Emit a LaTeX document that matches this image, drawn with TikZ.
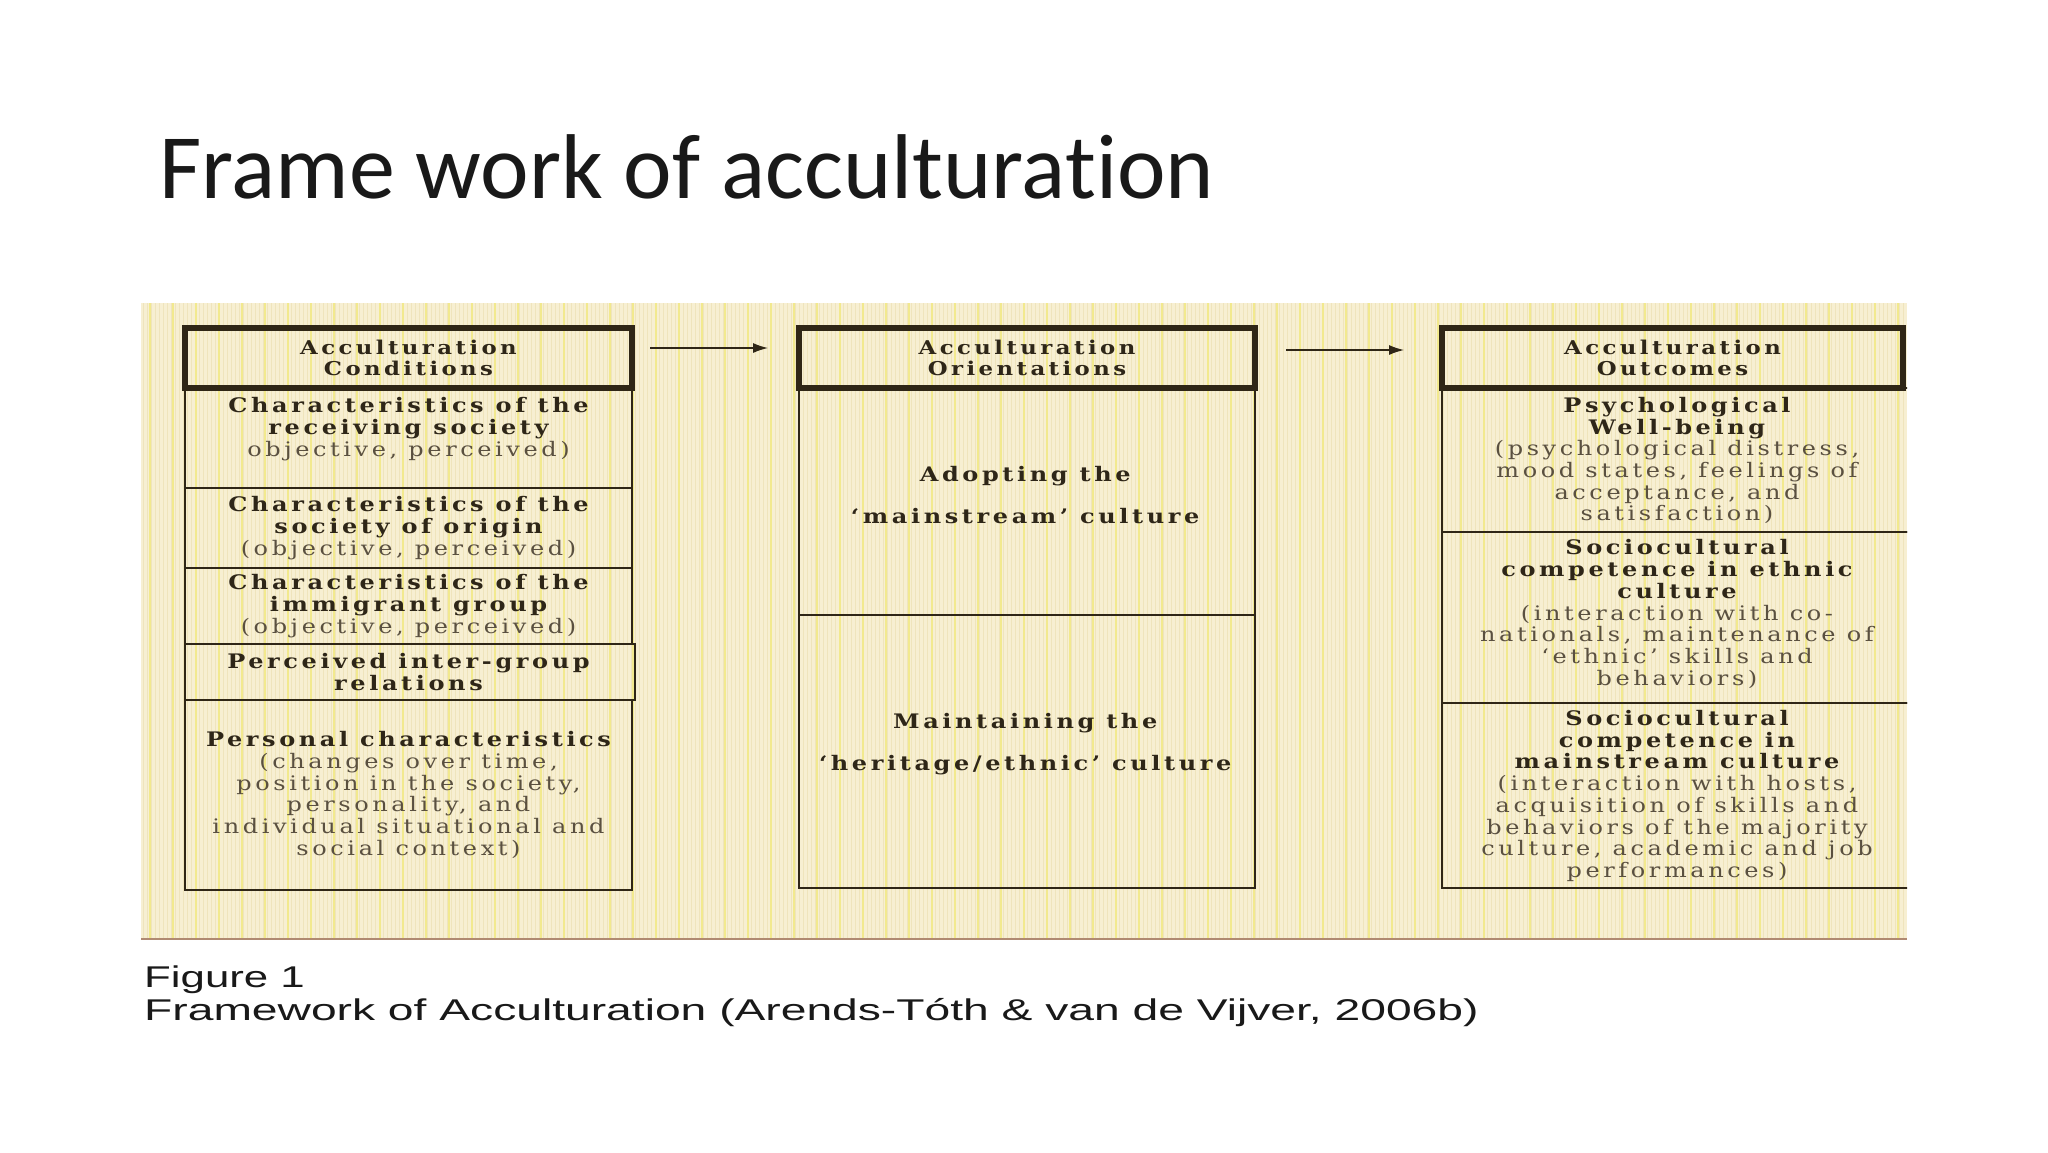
\documentclass[tikz,border=0pt]{standalone}
\usepackage{fontspec}
\usepackage{tikz}
\usetikzlibrary{positioning,calc,arrows.meta}

\newfontfamily\figfont[LetterSpace=18,FakeStretch=1.2]{DejaVu Serif}
\newfontfamily\slidefont[Ligatures=NoCommon]{Carlito}
\newfontfamily\capfont{Liberation Sans}

\definecolor{framecol}{HTML}{2F2616}
\definecolor{inkcol}{HTML}{2E2618}
\definecolor{softink}{HTML}{5A5040}
\definecolor{papercol}{HTML}{F7EFD2}
\definecolor{stripecol}{HTML}{EFE4BC}
\definecolor{yelstripe}{HTML}{F2E98E}
\definecolor{rulecol}{HTML}{B08A72}

\tikzset{
  headbox/.style={draw=framecol, line width=6pt, inner sep=0pt, outer sep=0pt,
    minimum height=60pt, align=center, text=inkcol,
    font=\figfont\bfseries\fontsize{19}{21}\selectfont},
  cellbox/.style={draw=framecol, line width=1.8pt, inner sep=0pt, outer sep=0pt},
  celltext/.style={inner sep=0pt, align=center, text=softink,
    font=\figfont\fontsize{20}{21.7}\selectfont},
  flowarrow/.style={-{Latex[length=15pt,width=10pt]}, line width=1.3pt, draw=framecol},
}

\begin{document}
\begin{tikzpicture}[x=1pt, y=-1pt]
    \useasboundingbox[fill=white] (0,0) rectangle (2048,1152);

    % title of the slide
    \node[anchor=base west, inner sep=0pt, text=black!90, font=\slidefont\fontsize{92}{100}\selectfont] (title) at (159,198) {Frame work of acculturation};

    % scanned paper
    \fill[papercol] (141,303) rectangle (1907,938);
    \foreach \x in {143,147,...,1905}
        \draw[stripecol, line width=1pt] (\x,303) -- (\x,938);
    \foreach \x in {150,173,...,1905}
        \draw[yelstripe, line width=1.2pt] (\x,303) -- (\x,938);
    \draw[rulecol, line width=2.5pt] (141,939) -- (1907,939);

    % conditions
    \node[headbox, minimum width=447pt] (condhead) at (408.5,358) {Acculturation\\Conditions};
    \node[cellbox, minimum width=447pt, minimum height=100pt] (recv) at (408.5,438) {};
    \node[cellbox, minimum width=447pt, minimum height=80pt] (origin) at (408.5,528) {};
    \node[cellbox, minimum width=447pt, minimum height=76pt] (group) at (408.5,606) {};
    \node[cellbox, minimum width=450pt, minimum height=56pt] (intergroup) at (410,672) {};
    \node[cellbox, minimum width=447pt, minimum height=190pt] (personal) at (408.5,795) {};
    \node[celltext] (recvtext) at (408.5,429) {\textbf{\color{inkcol}Characteristics of the}\\\textbf{\color{inkcol}receiving society}\\objective, perceived)};
    \node[celltext] (origintext) at (origin) {\textbf{\color{inkcol}Characteristics of the}\\\textbf{\color{inkcol}society of origin}\\(objective, perceived)};
    \node[celltext] (grouptext) at (group) {\textbf{\color{inkcol}Characteristics of the}\\\textbf{\color{inkcol}immigrant group}\\(objective, perceived)};
    \node[celltext] (intergrouptext) at (408.5,672) {\textbf{\color{inkcol}Perceived inter-group}\\\textbf{\color{inkcol}relations}};
    \node[celltext] (personaltext) at (personal) {\textbf{\color{inkcol}Personal characteristics}\\(changes over time,\\position in the society,\\personality, and\\individual situational and\\social context)};

    % orientations
    \node[headbox, minimum width=456pt] (orienthead) at (1027,358) {Acculturation\\Orientations};
    \node[cellbox, minimum width=456pt, minimum height=227pt] (adopt) at (1027,501.5) {};
    \node[cellbox, minimum width=456pt, minimum height=273pt] (maintain) at (1027,751.5) {};
    \node[celltext, text=inkcol] (adopttext) at (1027,495) {\textbf{Adopting the}\\[21pt]\textbf{‘mainstream’ culture}};
    \node[celltext, text=inkcol] (maintaintext) at (1027,744) {\textbf{Maintaining the}\\[21pt]\textbf{‘heritage/ethnic’ culture}};

    % outcomes
    \node[headbox, minimum width=461pt] (outhead) at (1672.5,358) {Acculturation\\Outcomes};
    \begin{scope}
        \clip (1400,380) rectangle (1907,900);
        \node[cellbox, minimum width=470pt, minimum height=144pt] (wellbeing) at (1677,460) {};
        \node[cellbox, minimum width=470pt, minimum height=171pt] (ethnic) at (1677,617.5) {};
        \node[cellbox, minimum width=470pt, minimum height=185pt] (mainstream) at (1677,795.5) {};
    \end{scope}
    \node[celltext] (wellbeingtext) at (1677,460.5) {\textbf{\color{inkcol}Psychological}\\\textbf{\color{inkcol}Well-being}\\(psychological distress,\\mood states, feelings of\\acceptance, and\\satisfaction)};
    \node[celltext] (ethnictext) at (1677,614) {\textbf{\color{inkcol}Sociocultural}\\\textbf{\color{inkcol}competence in ethnic}\\\textbf{\color{inkcol}culture}\\(interaction with co-\\nationals, maintenance of\\‘ethnic’ skills and\\behaviors)};
    \node[celltext] (mainstreamtext) at (1677,796) {\textbf{\color{inkcol}Sociocultural}\\\textbf{\color{inkcol}competence in}\\\textbf{\color{inkcol}mainstream culture}\\(interaction with hosts,\\acquisition of skills and\\behaviors of the majority\\culture, academic and job\\performances)};

    % arrows between the stages
    \draw[flowarrow, shorten <=18pt, shorten >=31pt] ([yshift=10pt]condhead.east) -- ([yshift=10pt]orienthead.west);
    \draw[flowarrow, shorten <=31pt, shorten >=38pt] ([yshift=8pt]orienthead.east) -- ([yshift=8pt]outhead.west);

    % caption
    \node[anchor=base west, inner sep=0pt, text=black!90, font=\capfont\fontsize{30}{33}\selectfont] (figno) at (144,987) {\scalebox{1.46}[1]{Figure 1}};
    \node[anchor=base west, inner sep=0pt, text=black!90, font=\capfont\fontsize{30}{33}\selectfont] (figcap) at (144,1020) {\scalebox{1.54}[1]{Framework of Acculturation (Arends-Tóth \& van de Vijver, 2006b)}};
\end{tikzpicture}
\end{document}
